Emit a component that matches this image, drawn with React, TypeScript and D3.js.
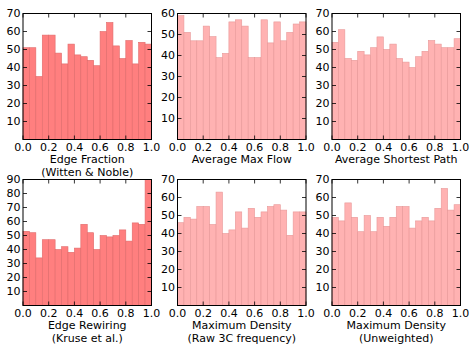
import React from "react";
import * as d3 from "d3";

const edgeFraction = [51, 51, 35, 58, 58, 48, 42, 53, 47, 46, 44, 41, 60, 65, 52, 45, 55, 42, 54, 53];
const avgMaxFlow = [59, 51, 47, 47, 54, 49, 39, 41, 56, 57, 54, 39, 39, 57, 46, 56, 47, 51, 55, 56];
const avgShortestPath = [54, 61, 45, 44, 49, 47, 51, 57, 50, 53, 45, 43, 40, 46, 49, 55, 53, 51, 51, 56];
const edgeRewiring = [53, 52, 34, 47, 47, 40, 42, 38, 41, 58, 52, 40, 50, 49, 50, 54, 46, 59, 58, 90];
const maxDensityRaw = [46, 49, 48, 55, 55, 45, 63, 40, 42, 52, 43, 54, 49, 52, 55, 56, 53, 39, 52, 52];
const maxDensityUnw = [49, 47, 57, 49, 41, 50, 41, 49, 44, 49, 55, 55, 43, 47, 49, 47, 54, 65, 53, 56];

const yMaxes = [70, 60, 70, 90, 70, 70];
const titles: string[][] = [
  ["Edge Fraction", "(Witten & Noble)"],
  ["Average Max Flow"],
  ["Average Shortest Path"],
  ["Edge Rewiring", "(Kruse et al.)"],
  ["Maximum Density", "(Raw 3C frequency)"],
  ["Maximum Density", "(Unweighted)"],
];
const series = [edgeFraction, avgMaxFlow, avgShortestPath, edgeRewiring, maxDensityRaw, maxDensityUnw];
const strong = [true, false, false, true, false, false];
const xTicks = [0, 0.2, 0.4, 0.6, 0.8, 1.0];

const lefts = [23, 177.5, 332];
const tops = [13.5, 179.5];
const W = 128.5;
const H = 126;

function Panel({ idx }: { idx: number }) {
  const col = idx % 3;
  const row = Math.floor(idx / 3);
  const x0 = lefts[col];
  const y0 = tops[row];
  const data = series[idx];
  const n = data.length;
  const x = d3.scaleLinear().domain([0, 1]).range([x0, x0 + W]);
  const y = d3.scaleLinear().domain([0, yMaxes[idx]]).range([y0 + H, y0]);
  const yTicks = d3.range(10, yMaxes[idx] + 1, 10);
  const fill = strong[idx] ? "#ff7f7f" : "#ffb2b2";
  const stroke = strong[idx] ? "#e06a6a" : "#e89898";
  const font = "DejaVu Sans, sans-serif";
  return (
    <g>
      {data.map((v, i) => (
        <rect
          key={i}
          x={x(i / n)}
          y={y(v)}
          width={x((i + 1) / n) - x(i / n)}
          height={y(0) - y(v)}
          fill={fill}
          stroke={stroke}
          strokeWidth={0.6}
        />
      ))}
      <rect x={x0} y={y0} width={W} height={H} fill="none" stroke="#000" strokeWidth={1} />
      {yTicks.map((t) => (
        <g key={"y" + t}>
          <line x1={x0} x2={x0 + 4} y1={y(t)} y2={y(t)} stroke="#000" strokeWidth={0.8} />
          <line x1={x0 + W - 4} x2={x0 + W} y1={y(t)} y2={y(t)} stroke="#000" strokeWidth={0.8} />
          <text x={x0 - 2.5} y={y(t)} dy="0.36em" textAnchor="end" fontSize={11} fontFamily={font}>
            {t}
          </text>
        </g>
      ))}
      {xTicks.map((t) => (
        <g key={"x" + t}>
          <line x1={x(t)} x2={x(t)} y1={y0 + H} y2={y0 + H - 4} stroke="#000" strokeWidth={0.8} />
          <line x1={x(t)} x2={x(t)} y1={y0} y2={y0 + 4} stroke="#000" strokeWidth={0.8} />
          <text x={x(t)} y={y0 + H + 11} textAnchor="middle" fontSize={11} fontFamily={font}>
            {t.toFixed(1)}
          </text>
        </g>
      ))}
      {titles[idx].map((s, i) => (
        <text
          key={"t" + i}
          x={x0 + W / 2}
          y={y0 + H + 23.2 + i * 13.2}
          textAnchor="middle"
          fontSize={11}
          fontFamily={font}
        >
          {s}
        </text>
      ))}
    </g>
  );
}

export default function App() {
  return (
    <svg
      width={474}
      height={351}
      style={{ position: "absolute", left: 0, top: 0, background: "#fff" }}
    >
      {series.map((_, i) => (
        <Panel key={i} idx={i} />
      ))}
    </svg>
  );
}
